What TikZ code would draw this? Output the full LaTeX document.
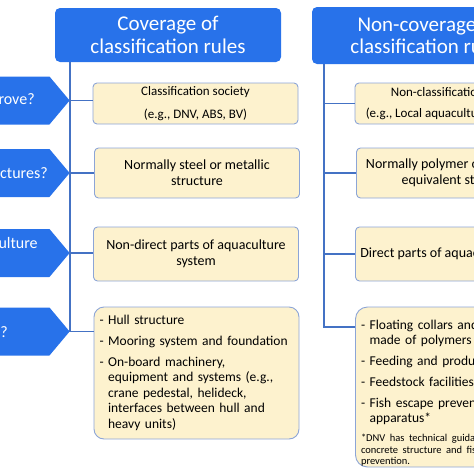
\documentclass[tikz,border=0pt]{standalone}
\usepackage{fontspec}
\setmainfont{Carlito}
\usepackage{xcolor}
\usetikzlibrary{calc}
\usetikzlibrary{positioning}
\usetikzlibrary{shapes.symbols}

\definecolor{hdrblue}{RGB}{40,114,234}
\definecolor{lineblue}{RGB}{68,114,196}
\definecolor{boxfill}{RGB}{253,242,206}
\definecolor{boxline}{RGB}{140,165,215}

\begin{document}
\begin{tikzpicture}[x=1pt,y=-1pt,semithick,node distance=262pt]
  \tikzstyle{head}=[fill=hdrblue, text=white, rounded corners=5pt, align=center, font=\fontsize{21}{22.5}\selectfont, inner sep=0pt]
  \tikzstyle{quest}=[signal, signal to=east, signal pointer angle=100, fill=hdrblue, minimum height=48pt, minimum width=200pt, anchor=east, inner sep=0pt]
  \tikzstyle{qtext}=[text=white, align=center, font=\fontsize{16}{17.5}\selectfont, inner sep=0pt]
  \tikzstyle{item}=[draw=boxline, fill=boxfill, rounded corners=4pt, line width=0.9pt, minimum width=205pt, align=center, font=\fontsize{14}{15.5}\selectfont, inner sep=0pt]
  \tikzstyle{list}=[item, rounded corners=10pt, text width=194pt, inner xsep=5.5pt, align=left, font=\fontsize{13.5}{15.5}\selectfont]
  \tikzstyle{link}=[draw=lineblue, line width=1.1pt]

  \useasboundingbox (0,0) rectangle (474,474);
  \clip (0,0) rectangle (474,474);

  % headers
  \node[head, minimum width=226pt, minimum height=54pt] (h1) at (168,35) {Coverage of\\classification rules};
  \node[head, minimum width=232pt, minimum height=57pt] (h2) at (428,35.5) {Non-coverage of\\classification rules};

  % questions
  \node[quest] (q1) at (70,100.5) {};
  \node[quest] (q2) at (70,173) {};
  \node[quest] (q3) at (70,253) {};
  \node[quest] (q4) at (70,331.5) {};
  \node[qtext] (t1) [left=35pt of q1.east] {Who will approve?};
  \node[qtext] (t2) [left=22pt of q2.east] {What structures?};
  \node[qtext] (t3) [left=32pt of q3.east] {Direct part of aquaculture\\system?};
  \node[qtext] (t4) [left=62pt of q4.east] {Which items?};

  % coverage
  \node[item, minimum height=41pt, font=\fontsize{13}{23}\selectfont] (b1) at (195.5,103.5) {Classification society\\(e.g., DNV, ABS, BV)};
  \node[item, minimum height=50pt, font=\fontsize{14}{16}\selectfont] (b2) at (197,173) {Normally steel or metallic\\structure};
  \node[item, minimum height=54pt] (b3) at (196,254) {Non-direct parts of aquaculture\\system};
  \node[list, minimum height=132pt] (b4) at (196.5,373) {- Hull structure\\[5.5pt]
    - Mooring system and foundation\\[5pt]
    - On-board machinery,\\
    \phantom{- }equipment and systems (e.g.,\\
    \phantom{- }crane pedestal, helideck,\\
    \phantom{- }interfaces between hull and\\
    \phantom{- }heavy units)};

  % non-coverage
  \node[item, minimum height=41pt, font=\fontsize{13}{21}\selectfont] (c1) [right of=b1] {Non-classification society\\(e.g., Local aquaculture regulation)};
  \node[item, minimum height=50pt, font=\fontsize{14}{16}\selectfont] (c2) [right of=b2] {Normally polymer or concrete or\\equivalent structure};
  \node[item, minimum height=54pt] (c3) [right of=b3] {Direct parts of aquaculture system};
  \node[list, minimum height=160pt, rounded corners=12pt, text width=210pt, font=\fontsize{13.5}{15}\selectfont] (c4) at (466,387) {\rule{0pt}{22pt}- Floating collars and nets\\
    \phantom{- }made of polymers\\[6pt]
    - Feeding and production systems\\[6pt]
    - Feedstock facilities\\[6pt]
    - Fish escape prevention\\
    \phantom{- }apparatus*\par\vspace{8pt}
    {\fontsize{10.5}{11.5}\selectfont\raggedright *DNV has technical guidance for\newline
    concrete structure and fish escape\newline
    prevention.\par}};

  % connectors
  \draw[link] (h1.south west -| q4.east) -- (q4.east);
  \path[link] (q1.east) edge (q1.east -| b1.west)
              (q2.east) edge (q2.east -| b2.west)
              (q3.east) edge (q3.east -| b3.west)
              (q4.east) edge (q4.east -| b4.west);
  \coordinate (m2) at (324,327);
  \draw[link] (h2.south west -| m2) -- (m2) -- (m2 -| c4.west);
  \path[link] (m2 |- c1.west) edge (c1.west)
              (m2 |- c2.west) edge (c2.west)
              (m2 |- c3.west) edge (c3.west);
\end{tikzpicture}
\end{document}
